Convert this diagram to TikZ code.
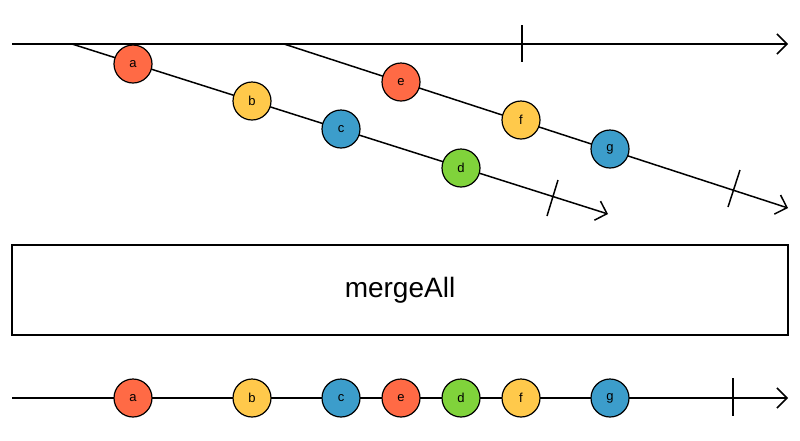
\documentclass[tikz,border=0pt]{standalone}
\usepackage{fontspec}
\setmainfont{Liberation Sans}
\usetikzlibrary{arrows.meta}
\definecolor{cr}{HTML}{FF6A45}
\definecolor{cy}{HTML}{FFC94B}
\definecolor{cb}{HTML}{3C9DCB}
\definecolor{cg}{HTML}{80D33B}
\begin{document}
\begin{tikzpicture}[x=1pt,y=-1pt,line width=1.5pt,
  ar/.style={-{Straight Barb[length=10pt,width=20pt,line width=1.5pt]}},
  m/.style={circle,draw,line width=1.2pt,minimum size=38pt,inner sep=0pt,font=\fontsize{13}{13}\selectfont},
  tk/.style={line width=1.5pt}]
\useasboundingbox (0,0) rectangle (800,440);
% top source
\coordinate (t0) at (12,44); \coordinate (t1) at (788,44);
\draw[ar] (t0) -- (t1);
\coordinate (tk1a) at (522,25); \coordinate (tk1b) at (522,62);
\draw[tk] (tk1a) -- (tk1b);
% diagonal 1
\coordinate (d1s) at (72,44); \coordinate (d1e) at (608,214);
\draw[ar] (d1s) -- (d1e);
\node[m,fill=cr] (a1) at (133,64) {a};
\node[m,fill=cy] (b1) at (252,101) {b};
\node[m,fill=cb] (c1) at (341,129) {c};
\node[m,fill=cg] (dd1) at (461,168) {d};
\coordinate (k1a) at (547,216); \coordinate (k1b) at (558,180);
\draw[tk] (k1a) -- (k1b);
% diagonal 2
\coordinate (d2s) at (284,44); \coordinate (d2e) at (788,208);
\draw[ar] (d2s) -- (d2e);
\node[m,fill=cr] (e1) at (401,82) {e};
\node[m,fill=cy] (f1) at (521,120) {f};
\node[m,fill=cb] (g1) at (610,149) {g};
\coordinate (k2a) at (728,207); \coordinate (k2b) at (740,170);
\draw[tk] (k2a) -- (k2b);
% box
\node[draw,line width=1.2pt,minimum width=776pt,minimum height=90pt,inner sep=0pt,font=\fontsize{28}{28}\selectfont] (box) at (400,290) {mergeAll};
% output
\coordinate (o0) at (12,398); \coordinate (o1) at (788,398);
\draw[ar] (o0) -- (o1);
\coordinate (ok1) at (733,378); \coordinate (ok2) at (733,416);
\draw[tk] (ok1) -- (ok2);
\node[m,fill=cr] (a2) at (133,398) {a};
\node[m,fill=cy] (b2) at (252,398) {b};
\node[m,fill=cb] (c2) at (341,398) {c};
\node[m,fill=cr] (e2) at (401,398) {e};
\node[m,fill=cg] (d2) at (461,398) {d};
\node[m,fill=cy] (f2) at (521,398) {f};
\node[m,fill=cb] (g2) at (610,398) {g};
\end{tikzpicture}
\end{document}
